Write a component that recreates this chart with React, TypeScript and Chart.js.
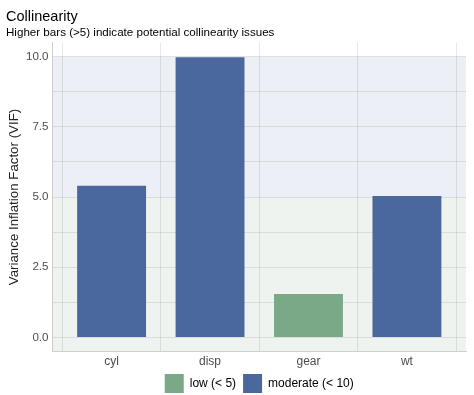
import React, { useEffect, useRef } from "react";
import { Chart, registerables } from "chart.js";

Chart.register(...registerables);

const categories = ["cyl", "disp", "gear", "wt"];
const vifValues = [5.4, 9.97, 1.55, 5.04];
const levels = ["low (< 5)", "moderate (< 10)"];
const levelOfBar = [1, 1, 0, 1];
const levelColors = ["#79a986", "#4b689e"];
const yTicks = [0, 1.25, 2.5, 3.75, 5, 6.25, 7.5, 8.75, 10];
const bandEdges = [5, 10];

const FONT = "'Liberation Sans', Arial, sans-serif";

const bandsPlugin = {
  id: "bands",
  beforeDraw(chart: any) {
    const { ctx, chartArea, scales } = chart;
    const y = scales.y;
    const y5 = y.getPixelForValue(bandEdges[0]);
    const y10 = y.getPixelForValue(bandEdges[1]);
    ctx.save();
    ctx.fillStyle = "#eceff5";
    ctx.fillRect(chartArea.left, y10, chartArea.right - chartArea.left, y5 - y10);
    ctx.fillStyle = "#eef3ef";
    ctx.fillRect(chartArea.left, y5, chartArea.right - chartArea.left, chartArea.bottom - y5);
    ctx.restore();
  },
};

const legendPlugin = {
  id: "bottomLegend",
  afterDraw(chart: any) {
    const { ctx, chartArea } = chart;
    const box = 19;
    const gapText = 6;
    const gapItem = 7;
    ctx.save();
    ctx.font = `12px ${FONT}`;
    const widths = levels.map((l) => ctx.measureText(l).width);
    const total = widths.reduce((a, w) => a + box + gapText + w, 0) + gapItem * (levels.length - 1);
    let x = (chartArea.left + chartArea.right) / 2 - total / 2;
    const top = chart.height - 21;
    levels.forEach((l, i) => {
      ctx.fillStyle = levelColors[i];
      ctx.fillRect(x, top, box, box);
      ctx.fillStyle = "#000";
      ctx.textBaseline = "middle";
      ctx.textAlign = "left";
      ctx.fillText(l, x + box + gapText, top + box / 2);
      x += box + gapText + widths[i] + gapItem;
    });
    ctx.restore();
  },
};

export default function App() {
  const ref = useRef<HTMLCanvasElement>(null);
  useEffect(() => {
    if (!ref.current) return;
    const datasets = levels.map((lv, li) => ({
      label: lv,
      data: categories
        .map((c, i) => ({ x: i + 1, y: vifValues[i], l: levelOfBar[i] }))
        .filter((d) => d.l === li)
        .map((d) => ({ x: d.x, y: d.y })),
      backgroundColor: levelColors[li],
      borderWidth: 0,
      barPercentage: 0.7,
      categoryPercentage: 1,
      grouped: false,
    }));
    const chart = new Chart(ref.current, {
      type: "bar",
      data: { datasets } as any,
      plugins: [bandsPlugin, legendPlugin],
      options: {
        animation: false,
        responsive: false,
        maintainAspectRatio: false,
        layout: { padding: { left: 6, right: 8, top: 0, bottom: 23 } },
        plugins: {
          title: {
            display: true,
            text: "Collinearity",
            align: "start",
            color: "#000",
            font: { family: FONT, size: 14.5, weight: "normal", lineHeight: 1 },
            padding: { top: 10, bottom: 0 },
          },
          subtitle: {
            display: true,
            text: "Higher bars (>5) indicate potential collinearity issues",
            align: "start",
            color: "#000",
            font: { family: FONT, size: 11.6, lineHeight: 1.2 },
            padding: { top: 1, bottom: 3 },
          },
          legend: { display: false },
          tooltip: { enabled: false },
        },
        scales: {
          x: {
            type: "linear",
            min: 0.4,
            max: 4.6,
            offset: false,
            afterBuildTicks: (s: any) => {
              s.ticks = categories.map((_, i) => ({ value: i + 1 }));
            },
            ticks: {
              autoSkip: false,
              padding: 3,
              color: "#4d4d4d",
              font: { family: FONT, size: 12 },
              callback: (v: any) => categories[Math.round(Number(v)) - 1] ?? "",
            },
            grid: { color: "rgba(0,0,0,0.09)", drawTicks: false, lineWidth: 1 },
            border: { display: true, color: "#cfcfcf", width: 1 },
          },
          y: {
            type: "linear",
            min: -0.5,
            max: 10.5,
            afterBuildTicks: (s: any) => {
              s.ticks = yTicks.map((v) => ({ value: v }));
            },
            ticks: {
              autoSkip: false,
              padding: 4,
              color: "#4d4d4d",
              font: { family: FONT, size: 11.6 },
              callback: (v: any) => {
                const n = Number(v);
                return Math.abs(n / 2.5 - Math.round(n / 2.5)) < 1e-6 ? n.toFixed(1) : "";
              },
            },
            grid: { color: "rgba(0,0,0,0.09)", drawTicks: false, lineWidth: 1 },
            border: { display: true, color: "#cfcfcf", width: 1 },
            title: {
              display: true,
              text: "Variance Inflation Factor (VIF)",
              color: "#222",
              font: { family: FONT, size: 13.3 },
              padding: { top: 0, bottom: 0 },
            },
          },
        },
      } as any,
    });
    return () => chart.destroy();
  }, []);
  return (
    <div style={{ position: "fixed", left: 0, top: 0, width: 474, height: 395, background: "#fff" }}>
      <canvas ref={ref} width={474} height={395} style={{ width: 474, height: 395 }} />
    </div>
  );
}
